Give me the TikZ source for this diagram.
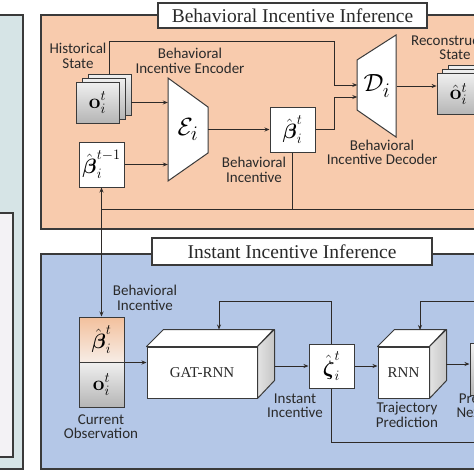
\documentclass[tikz,border=0pt]{standalone}
\usepackage{amsmath}
\usepackage[no-math]{fontspec}
\setmainfont{Liberation Serif}
\newfontfamily\labfont{Carlito}
\usetikzlibrary{arrows.meta,calc}
\definecolor{bordercol}{HTML}{3A3A3A}
\definecolor{orangefill}{HTML}{F8CBAD}
\definecolor{bluefill}{HTML}{B4C7E7}
\definecolor{leftfill}{HTML}{D6E4E6}
\definecolor{innerfill}{HTML}{F3F2F5}
\definecolor{conncol}{HTML}{2E2A28}
\definecolor{textcol}{HTML}{2A2A2A}
\definecolor{peach}{HTML}{F3C09C}
\definecolor{peachlight}{HTML}{F7EDE6}
\begin{document}
\begin{tikzpicture}[x=1pt,y=-1pt,
  panel/.style={draw=bordercol,line width=1.1pt},
  titlebox/.style={draw=bordercol,fill=white,line width=1.1pt,inner sep=0pt,
     font=\fontsize{19.5}{21}\selectfont,text=textcol},
  conn/.style={draw=conncol,line width=0.9pt},
  arr/.style={conn,-{Stealth[length=5pt,width=4pt]}},
  darr/.style={conn,{Stealth[length=5pt,width=4pt]}-{Stealth[length=5pt,width=4pt]}},
  lbl/.style={font=\labfont\fontsize{15}{14.5}\selectfont,align=center,inner sep=0pt,text=textcol},
  mathsize/.style={font=\fontsize{20.74}{21}\selectfont},
  plainbox/.style={draw=bordercol,fill=white,line width=1pt,inner sep=0pt,
     minimum width=45pt,minimum height=45pt,mathsize},
  stackbox/.style={draw=bordercol,line width=0.8pt,top color=gray!12,bottom color=gray!58,
     inner sep=0pt,minimum width=43pt,minimum height=41pt,mathsize},
  shapeborder/.style={draw=bordercol,fill=white,line width=1pt},
  shapelabel/.style={inner sep=0pt,font=\fontsize{24.88}{25}\selectfont},
  front3d/.style={draw=bordercol,fill=white,line width=1pt,inner sep=0pt,
     font=\fontsize{15}{15}\selectfont,text=textcol},
  top3d/.style={draw=bordercol,fill=white,line width=1pt,line join=round},
  side3d/.style={draw=bordercol,line width=1pt,line join=round,left color=gray!22,right color=gray!45}
]
\useasboundingbox (0,0) rectangle (474,474);
\clip (0,0) rectangle (474,474);
\fill[white] (0,0) rectangle (474,474);

% left panel (cut off)
\path[panel,fill=leftfill] (-10,15) rectangle (23,469);
\path[panel,fill=innerfill] (-10,213) rectangle (13,457);

% main panels
\path[panel,fill=orangefill] (41,15) rectangle (500,229);
\path[panel,fill=bluefill] (41,254) rectangle (500,469);

\node[titlebox,minimum width=269pt,minimum height=25pt] (t1) at (292.5,15.5) {Behavioral Incentive Inference};
\node[titlebox,minimum width=280pt,minimum height=27pt] (t2) at (292,251.5) {Instant Incentive Inference};

% ---------- Behavioral incentive inference ----------
\node[stackbox] (hist3) at (109.5,94.5) {};
\node[stackbox] (hist2) at (103.5,98.5) {};
\node[stackbox] (hist) at (97.5,102.5) {$\mathbf{o}_i^t$};
\node[lbl] (histlbl) at (78,56) {Historical\\State};

\draw[shapeborder] (168,78) -- (208,107) -- (208,153) -- (168,181) -- cycle;
\node[shapelabel,minimum width=40pt,minimum height=103pt] (enc) at (188,129.5) {$\mathcal{E}_i$};
\node[lbl] (enclbl) at (190,61) {Behavioral\\Incentive Encoder};

\node[plainbox] (bprev) at (101.5,164.5) {$\hat{\boldsymbol{\beta}}_i^{t-1}$};
\node[plainbox] (bt) at (292.5,129.5) {$\hat{\boldsymbol{\beta}}_i^{t}$};
\node[lbl] (btlbl) at (254,170) {Behavioral\\Incentive};

\draw[shapeborder] (357,60) -- (396,35) -- (396,137) -- (357,110) -- cycle;
\node[shapelabel,minimum width=39pt,minimum height=102pt] (dec) at (377,86) {$\mathcal{D}_i$};
\node[lbl] (declbl) at (382,152.5) {Behavioral\\Incentive Decoder};

\node[stackbox] (rec3) at (469.5,86) {};
\node[stackbox] (rec2) at (464,90) {};
\node[stackbox] (rec) at (458.5,94) {$\hat{\mathbf{o}}_i^t$};
\node[lbl] (reclbl) at (455,47.5) {Reconstructed\\State};

\coordinate (topjoin) at (334,41);
\coordinate (midjoin) at (334,97);
\coordinate (bus) at (0,209);
\coordinate (busend) at (500,209);

\draw[arr] (hist.east -| hist3.east) -- (hist.east -| enc.west);
\draw[arr] (hist3.north) |- (topjoin) |- (dec.west |- 0,85);
\draw[arr] (bprev.east) -- (bprev.east -| enc.west);
\draw[arr] (enc.east |- bt.west) -- (bt.west);
\draw[arr] (bt.east) -| (midjoin) -- (midjoin -| dec.west);
\draw[arr] (dec.east) -- (dec.east -| rec.west);
\draw[conn] (bt.south) -- (bt.south |- bus);
\draw[conn] (bprev.south |- bus) -- (busend);

% ---------- Instant incentive inference ----------
\node[lbl] (bilbl) at (145,298) {Behavioral\\Incentive};
\node[draw=bordercol,line width=1pt,top color=peach,bottom color=peachlight,inner sep=0pt,
  minimum width=45pt,minimum height=45pt,mathsize] (combtop) at (101.5,339.5) {$\hat{\boldsymbol{\beta}}_i^{t}$};
\node[draw=bordercol,line width=1pt,top color=gray!12,bottom color=gray!58,inner sep=0pt,
  minimum width=45pt,minimum height=45pt,mathsize] (combbot) at (101.5,384.5) {$\mathbf{o}_i^t$};
\node[lbl] (curlbl) at (101,426.5) {Current\\Observation};

\draw[darr] (combtop.north) -- (bprev.south);

% GAT-RNN 3D box
\node[front3d,minimum width=110pt,minimum height=51pt] (gat) at (202,372.5) {GAT-RNN};
\draw[top3d] (gat.north west) -- ++(17,-17) -- ++(110,0) -- (gat.north east) -- cycle;
\draw[side3d] (gat.north east) -- ++(17,-17) -- ++(0,51) -- (gat.south east) -- cycle;

\node[plainbox,minimum height=44pt] (zeta) at (331.5,366) {$\hat{\boldsymbol{\zeta}}_i^{t}$};
\node[lbl] (zlbl) at (295,405.5) {Instant\\Incentive};

% RNN 3D box
\node[front3d,minimum width=51pt,minimum height=51pt] (rnn) at (403.5,372.5) {RNN};
\draw[top3d] (rnn.north west) -- ++(17,-17) -- ++(51,0) -- (rnn.north east) -- cycle;
\draw[side3d] (rnn.north east) -- ++(17,-17) -- ++(0,51) -- (rnn.south east) -- cycle;
\node[lbl] (rnnlbl) at (407,415) {Trajectory\\Prediction};

\node[draw=bordercol,line width=1pt,top color=gray!12,bottom color=gray!58,inner sep=0pt,
  minimum width=45pt,minimum height=52pt] (pred) at (492.5,369) {};
\node[lbl] (predlbl) at (488,405.5) {Predicted\\Next State};

\coordinate (gatback) at ($(gat.east)+(17,0)$);
\coordinate (gattop) at ($(gat.north)+(17,-17)$);
\coordinate (loop1) at (219,301);
\coordinate (loop2) at (500,301);
\coordinate (rnnin) at (420,330);
\coordinate (rnnback) at (446,364);
\coordinate (busB) at (500,442);

\draw[arr] (combtop.south east) -- (combtop.south east -| gat.west);
\draw[arr] (gatback |- zeta.west) -- (zeta.west);
\draw[arr] (zeta.north) |- (loop1) -- (loop1 |- gattop);
\draw[conn] (zeta.south) |- (busB);
\draw[arr] (zeta.east) -- (zeta.east -| rnn.west);
\draw[arr] (loop2) -| (rnnin);
\draw[arr] (rnnback) -- (rnnback -| pred.west);
\end{tikzpicture}
\end{document}
